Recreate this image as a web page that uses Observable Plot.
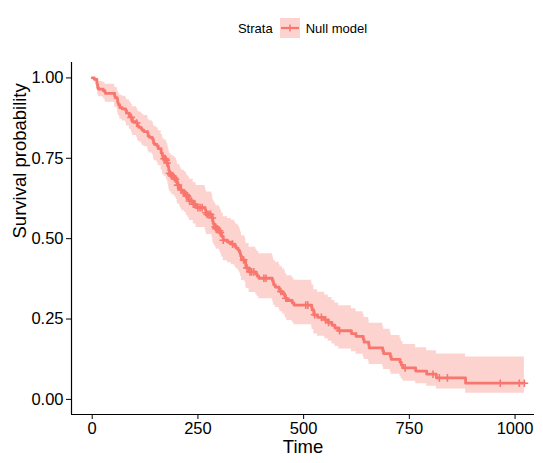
<html>
<head>
  <!-- load d3 and plot -->
  <script src="https://cdn.jsdelivr.net/npm/d3@7"></script>
  <script src="https://cdn.jsdelivr.net/npm/@observablehq/plot@0.6"></script>
  <style>
    body { margin: 0; background: white; font-family: "Liberation Sans", Arial, Helvetica, sans-serif; }
    #legend { height: 56px; display: flex; align-items: center; justify-content: center;
              padding-left: 71px; padding-right: 9px; box-sizing: border-box; width: 543px; font-size: 13px; }
    #legend .key { margin: 0 6px 0 7px; }
  </style>
</head>
<body>
  <!-- legend above the chart -->
  <div id="legend"></div>
  <div id="chart"></div>
  <script>
    // Kaplan-Meier steps
    const times = [0,5,11,12,13,15,26,30,31,53,54,59,60,61,62,65,71,79,81,88,
      92,93,95,105,107,110,116,118,122,131,132,135,142,144,145,147,153,156,163,166,
      167,170,175,176,177,179,180,181,182,183,186,189,194,197,199,201,202,207,208,210,
      212,218,222,223,226,229,230,239,245,246,267,268,269,270,283,284,285,286,288,291,
      293,301,303,305,306,310,320,329,337,340,345,348,350,351,353,361,363,364,371,387,
      390,394,426,428,429,433,442,444,450,455,457,460,473,477,519,520,524,533,550,558,
      567,574,583,613,624,641,643,654,655,687,689,705,707,728,731,735,765,791,814,883];
    const survival = [1,.9956,.9825,.9781,.9693,.9649,.9605,.9561,.9518,.9430,
      .9386,.9342,.9254,.9211,.9167,.9079,.9035,.8991,.8904,.8816,
      .8772,.8728,.8640,.8596,.8507,.8463,.8418,.8374,.8330,.8285,
      .8197,.8153,.8108,.8064,.7975,.7931,.7887,.7798,.7665,.7577,
      .7532,.7488,.7443,.7398,.7353,.7262,.7217,.7126,.7081,.7035,
      .6989,.6943,.6897,.6850,.6803,.6708,.6661,.6613,.6565,.6517,
      .6469,.6421,.6372,.6323,.6273,.6223,.6172,.6070,.6019,.5967,
      .5913,.5860,.5807,.5753,.5698,.5643,.5531,.5475,.5419,.5363,
      .5306,.5248,.5189,.5129,.5070,.4950,.4890,.4830,.4768,.4707,
      .4646,.4585,.4524,.4463,.4340,.4278,.4154,.4092,.3966,.3900,
      .3834,.3768,.3700,.3631,.3563,.3494,.3426,.3357,.3287,.3217,
      .3147,.3076,.3004,.2933,.2857,.2782,.2632,.2554,.2475,.2392,
      .2307,.2221,.2136,.2047,.1958,.1869,.1780,.1691,.1602,.1513,
      .1424,.1335,.1246,.1157,.1068,.0979,.0881,.0783,.0671,.0503];
    const lower = [1,.9871,.9656,.9592,.9472,.9413,.9356,.9299,.9243,.9134,
      .9079,.9026,.8920,.8867,.8815,.8711,.8660,.8609,.8507,.8406,
      .8356,.8306,.8206,.8156,.8056,.8007,.7957,.7908,.7859,.7810,
      .7712,.7663,.7615,.7566,.7469,.7421,.7373,.7277,.7134,.7039,
      .6991,.6944,.6896,.6848,.6800,.6704,.6655,.6559,.6511,.6464,
      .6416,.6367,.6318,.6269,.6219,.6120,.6071,.6020,.5970,.5920,
      .5870,.5820,.5770,.5719,.5667,.5615,.5563,.5457,.5404,.5351,
      .5296,.5241,.5186,.5131,.5074,.5017,.4903,.4846,.4789,.4732,
      .4673,.4613,.4553,.4492,.4432,.4311,.4250,.4189,.4127,.4066,
      .4004,.3943,.3882,.3821,.3699,.3637,.3513,.3451,.3327,.3262,
      .3197,.3132,.3064,.2997,.2930,.2862,.2796,.2729,.2661,.2593,
      .2526,.2457,.2389,.2321,.2248,.2176,.2034,.1961,.1886,.1808,
      .1727,.1646,.1567,.1485,.1403,.1322,.1242,.1163,.1084,.1006,
      .0929,.0853,.0779,.0705,.0632,.0561,.0483,.0407,.0320,.0192];
    const upper = [1,1,1,.997,.992,.989,.986,.983,.980,.974,
      .970,.967,.960,.957,.953,.946,.943,.939,.932,.925,
      .921,.917,.910,.906,.898,.894,.891,.887,.883,.879,
      .871,.867,.863,.859,.852,.848,.844,.836,.824,.816,
      .811,.807,.803,.799,.795,.787,.783,.774,.770,.766,
      .761,.757,.753,.749,.744,.735,.731,.726,.722,.717,
      .713,.708,.704,.699,.694,.690,.685,.675,.670,.665,
      .660,.655,.650,.645,.640,.635,.624,.619,.613,.608,
      .602,.597,.591,.586,.580,.568,.563,.557,.551,.545,
      .539,.533,.527,.521,.509,.503,.491,.485,.473,.466,
      .460,.453,.447,.440,.433,.427,.420,.413,.406,.399,
      .392,.385,.378,.371,.363,.356,.341,.333,.325,.317,
      .308,.300,.291,.282,.273,.264,.255,.246,.237,.228,
      .218,.209,.199,.190,.180,.171,.161,.151,.141,.132];
    // censored times (the + marks)
    const censored = [92,105,170,173,175,177,183,186,189,191,194,197,202,204,210,218,222,223,224,225,
      230,235,239,243,250,255,260,269,272,276,280,284,291,292,293,296,301,303,310,332,
      358,366,373,377,382,406,411,446,458,505,510,526,542,552,559,585,740,806,821,840,
      965,1010,1022];

    const strata = "Null model";
    const xTicks = [0, 250, 500, 750, 1000];
    const yTicks = [0, 0.25, 0.5, 0.75, 1];
    const xDomain = [-49, 1046];
    const yDomain = [-0.047, 1.048];
    const red = "#F8766D";

    // step table, carried on to the last follow-up time
    const steps = times.map((t, i) => ({time: t, surv: survival[i], lo: lower[i], hi: upper[i]}));
    const last = steps[steps.length - 1];
    steps.push({...last, time: d3.max(censored)});

    // censor marks sit on the curve
    const marks = censored.map(t => ({time: t, surv: survival[d3.bisectRight(times, t) - 1]}));

    const chart = Plot.plot({
      width: 543,
      height: 407,
      marginTop: 6,
      marginBottom: 49,
      marginLeft: 71,
      marginRight: 9,
      style: {fontFamily: '"Liberation Sans", Arial, Helvetica, sans-serif', fontSize: "16.5px", color: "black", background: "white", overflow: "visible"},
      x: {domain: xDomain},
      y: {domain: yDomain},
      marks: [
        Plot.areaY(steps, {x: "time", y1: "lo", y2: "hi", curve: "step-after", fill: red, fillOpacity: 0.32}),
        Plot.line(steps, {x: "time", y: "surv", curve: "step-after", stroke: red, strokeWidth: 2.8}),
        Plot.dot(marks, {x: "time", y: "surv", symbol: "plus", r: 2.6, stroke: red, strokeWidth: 1.6}),
        Plot.ruleX([xDomain[0]], {stroke: "black", strokeWidth: 1.2}),
        Plot.ruleY([yDomain[0]], {stroke: "black", strokeWidth: 1.2}),
        Plot.axisX({ticks: xTicks, tickSize: 5, tickPadding: 3, tickFormat: d3.format("d"), label: null, fontSize: 16.5, stroke: "black"}),
        Plot.axisY({ticks: yTicks, tickSize: 5, tickPadding: 3, tickFormat: d3.format(".2f"), label: null, fontSize: 16.5, stroke: "black"}),
        Plot.text(["Survival probability"], {frameAnchor: "left", rotate: -90, dx: -51, lineAnchor: "middle", fontSize: 18.5, fill: "black"}),
        Plot.text(["Time"], {frameAnchor: "bottom", dy: 33, lineAnchor: "middle", fontSize: 18.5, fill: "black"})
      ]
    });
    document.getElementById("chart").appendChild(chart);

    // legend: strata title + key + label
    document.getElementById("legend").innerHTML =
      `<span>Strata</span>` +
      `<svg class="key" width="20" height="20"><rect width="20" height="20" fill="${red}" fill-opacity="0.32"></rect>` +
      `<line x1="1" x2="19" y1="10" y2="10" stroke="${red}" stroke-width="2.2"></line>` +
      `<line x1="10" x2="10" y1="6.5" y2="13.5" stroke="${red}" stroke-width="1.5"></line></svg>` +
      `<span>${strata}</span>`;
  </script>
</body>
</html>
